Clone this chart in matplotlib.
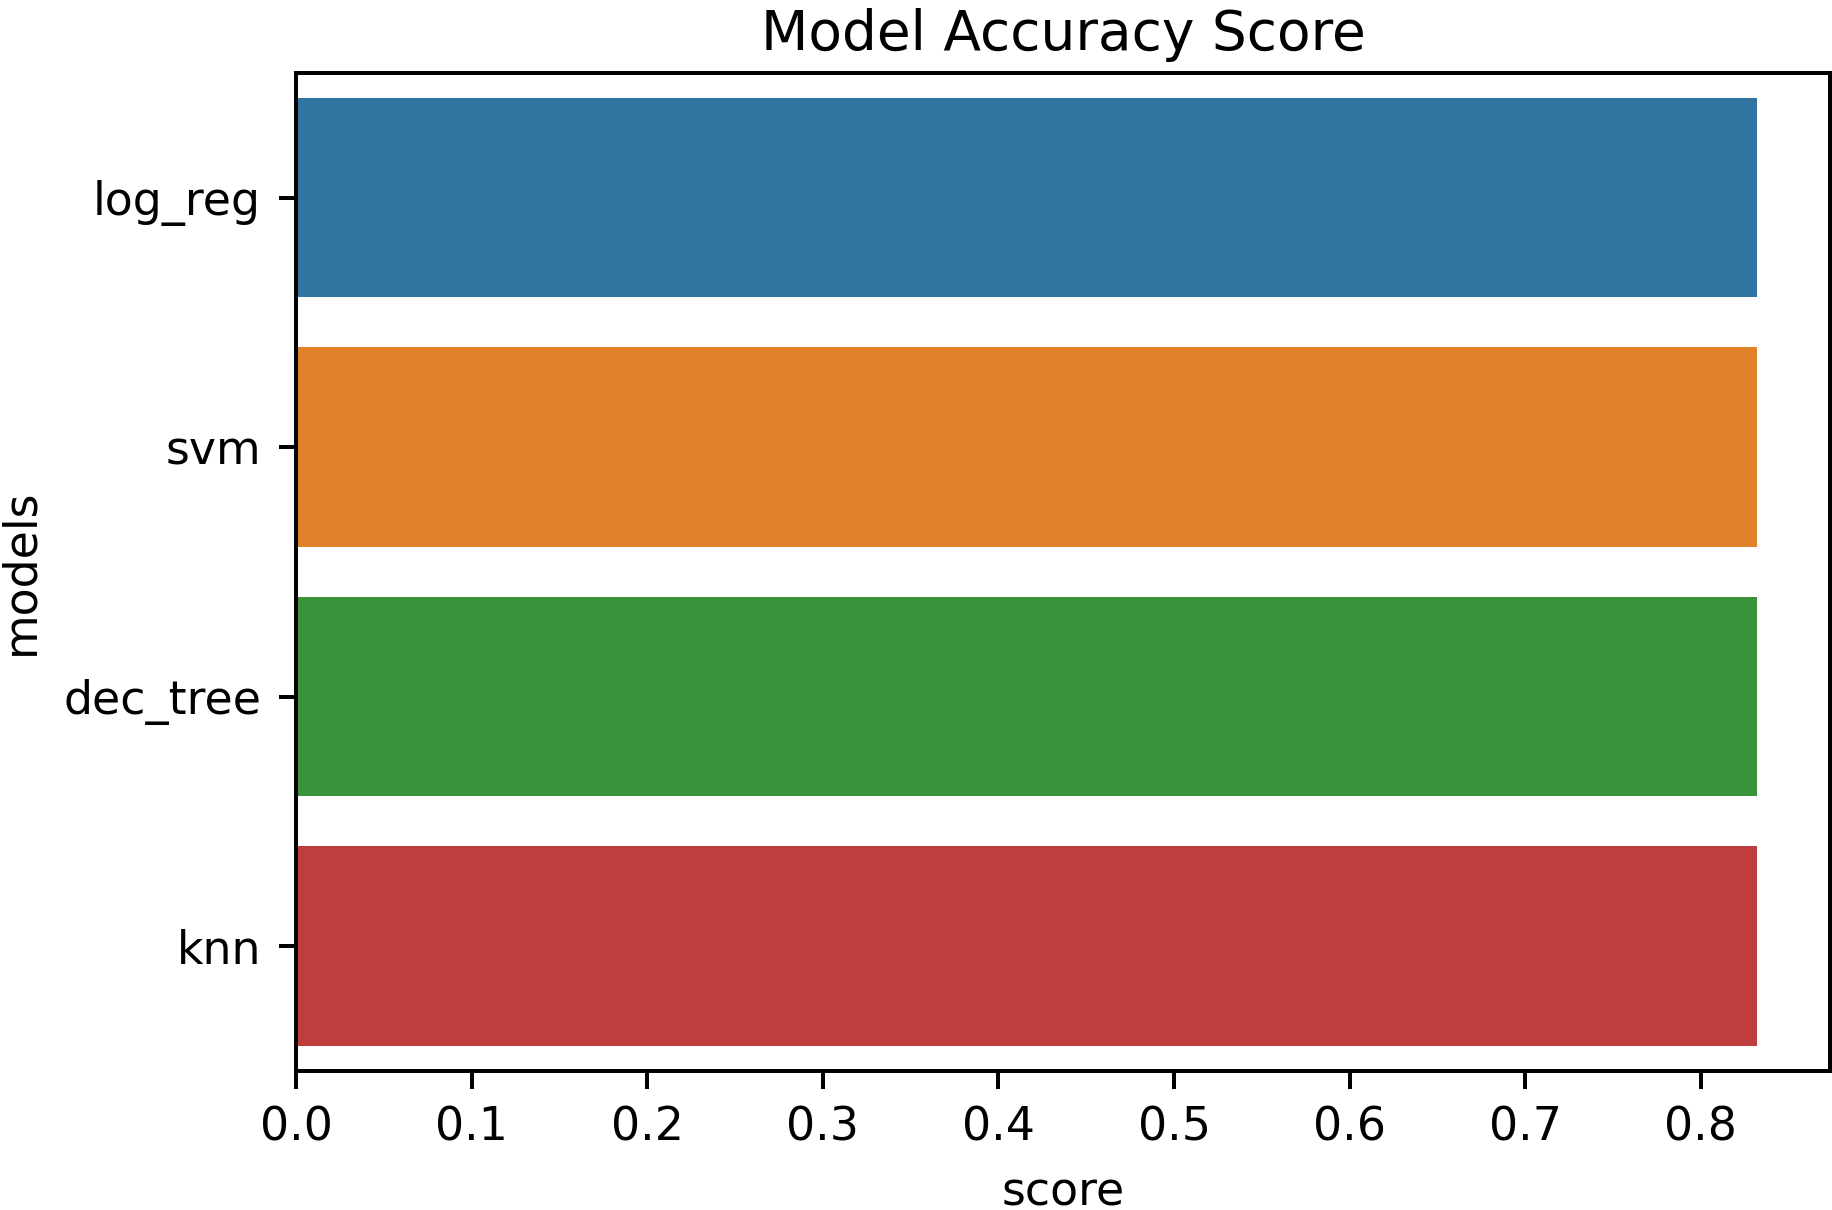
import matplotlib
matplotlib.use("Agg")
import matplotlib.pyplot as plt
import seaborn as sns

models = ["log_reg", "svm", "dec_tree", "knn"]
scores = [0.832, 0.832, 0.832, 0.832]

S = 3.6
F = 3.3
plt.rcParams['font.family'] = ['DejaVu Sans']
fig = plt.figure(figsize=(18.33, 12.10), dpi=100)
ax = fig.add_axes([0.1615, 0.115, 0.9984 - 0.1615, 0.9397 - 0.115])

colors = [sns.desaturate(c, 0.75) for c in sns.color_palette("tab10", 4)]
ypos = list(range(len(models)))
ax.barh(ypos, scores, height=0.8, color=colors)
ax.set_yticks(ypos)
ax.set_yticklabels(models)
ax.set_ylim(len(models) - 0.5, -0.5)
ax.set_xlim(0, max(scores) * 1.05)
ax.set_xticks([0.0, 0.1, 0.2, 0.3, 0.4, 0.5, 0.6, 0.7, 0.8])

fs = 10 * F
ax.tick_params(labelsize=fs, length=3.5 * S, width=0.8 * S, pad=3.5 * S)
for sp in ax.spines.values():
    sp.set_linewidth(0.8 * S)
ax.set_xlabel("score", fontsize=fs, labelpad=4 * S)
ax.set_ylabel("models", fontsize=fs, labelpad=4 * S)
ax.set_title("Model Accuracy Score", fontsize=12 * F, pad=4.5 * S)

fig.savefig("out.png", dpi=100)
